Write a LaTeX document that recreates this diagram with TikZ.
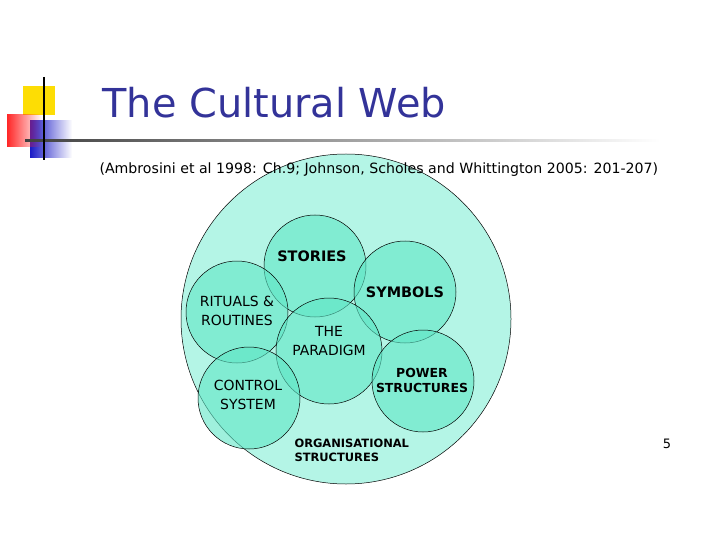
\documentclass[tikz,border=0pt]{standalone}
\usepackage{fontspec}
\setmainfont{DejaVu Sans}
\usetikzlibrary{fadings}
\definecolor{bigc}{HTML}{B4F5E6}
\definecolor{smallc}{HTML}{5FE6C6}
\definecolor{titleblue}{HTML}{333399}
\begin{document}
\begin{tikzpicture}[x=1bp,y=-1bp,
  web/.style={circle,draw=black,line width=0.5pt,fill=smallc,fill opacity=0.6,text opacity=1,inner sep=0pt},
  lbl/.style={align=center,font=\fontsize{14}{19}\selectfont},
  lblb/.style={align=center,font=\fontsize{14.5}{18}\selectfont\bfseries}]
\useasboundingbox (0,0) rectangle (720,540);
% logo
\fill[yellow!80!orange] (23,86) rectangle (55,115);
\fill[blue!75!black!90, path fading=east] (30,120) rectangle (72,158);
\fill[red!85, path fading=east] (7,114) rectangle (42,147);
\fill[left color=black!75, right color=white] (25,140) rectangle (660,142);
\draw[line width=1.5pt] (44,77) -- (44,160);
\node[anchor=west,text=titleblue,font=\fontsize{40}{46}\selectfont] (title) at (99,103) {The Cultural Web};
% big circle
\node[circle,draw=black,line width=0.5pt,fill=bigc,minimum size=330bp,inner sep=0pt] (org) at (346,319) {};
\node[anchor=west,font=\fontsize{14.2}{16}\selectfont] (sub) at (96,170) {(Ambrosini et al 1998: Ch.9; Johnson, Scholes and Whittington 2005: 201-207)};
% small circles
\node[web,minimum size=102bp] (stories) at (315,266) {};
\node[web,minimum size=102bp] (symbols) at (405,292) {};
\node[web,minimum size=102bp] (rituals) at (237,312) {};
\node[web,minimum size=106bp] (paradigm) at (329,351) {};
\node[web,minimum size=102bp] (control) at (249,398) {};
\node[web,minimum size=102bp] (power) at (423,381) {};
% labels
\node[lblb] (tstories) at (312,256) {STORIES};
\node[lblb] (tsymbols) at (405,292) {SYMBOLS};
\node[lbl] (trituals) at (237,311) {RITUALS \&\\ROUTINES};
\node[lbl] (tparadigm) at (329,341) {THE\\PARADIGM};
\node[lbl] (tcontrol) at (248,395) {CONTROL\\SYSTEM};
\node[align=center,font=\fontsize{12.5}{15}\selectfont\bfseries] (tpower) at (422,380) {POWER\\STRUCTURES};
\node[anchor=west,align=left,font=\fontsize{11.5}{14}\selectfont\bfseries] (torg) at (291,450) {ORGANISATIONAL\\STRUCTURES};
\node[font=\fontsize{13}{15}\selectfont] (num) at (667,444) {5};
\end{tikzpicture}
\end{document}
